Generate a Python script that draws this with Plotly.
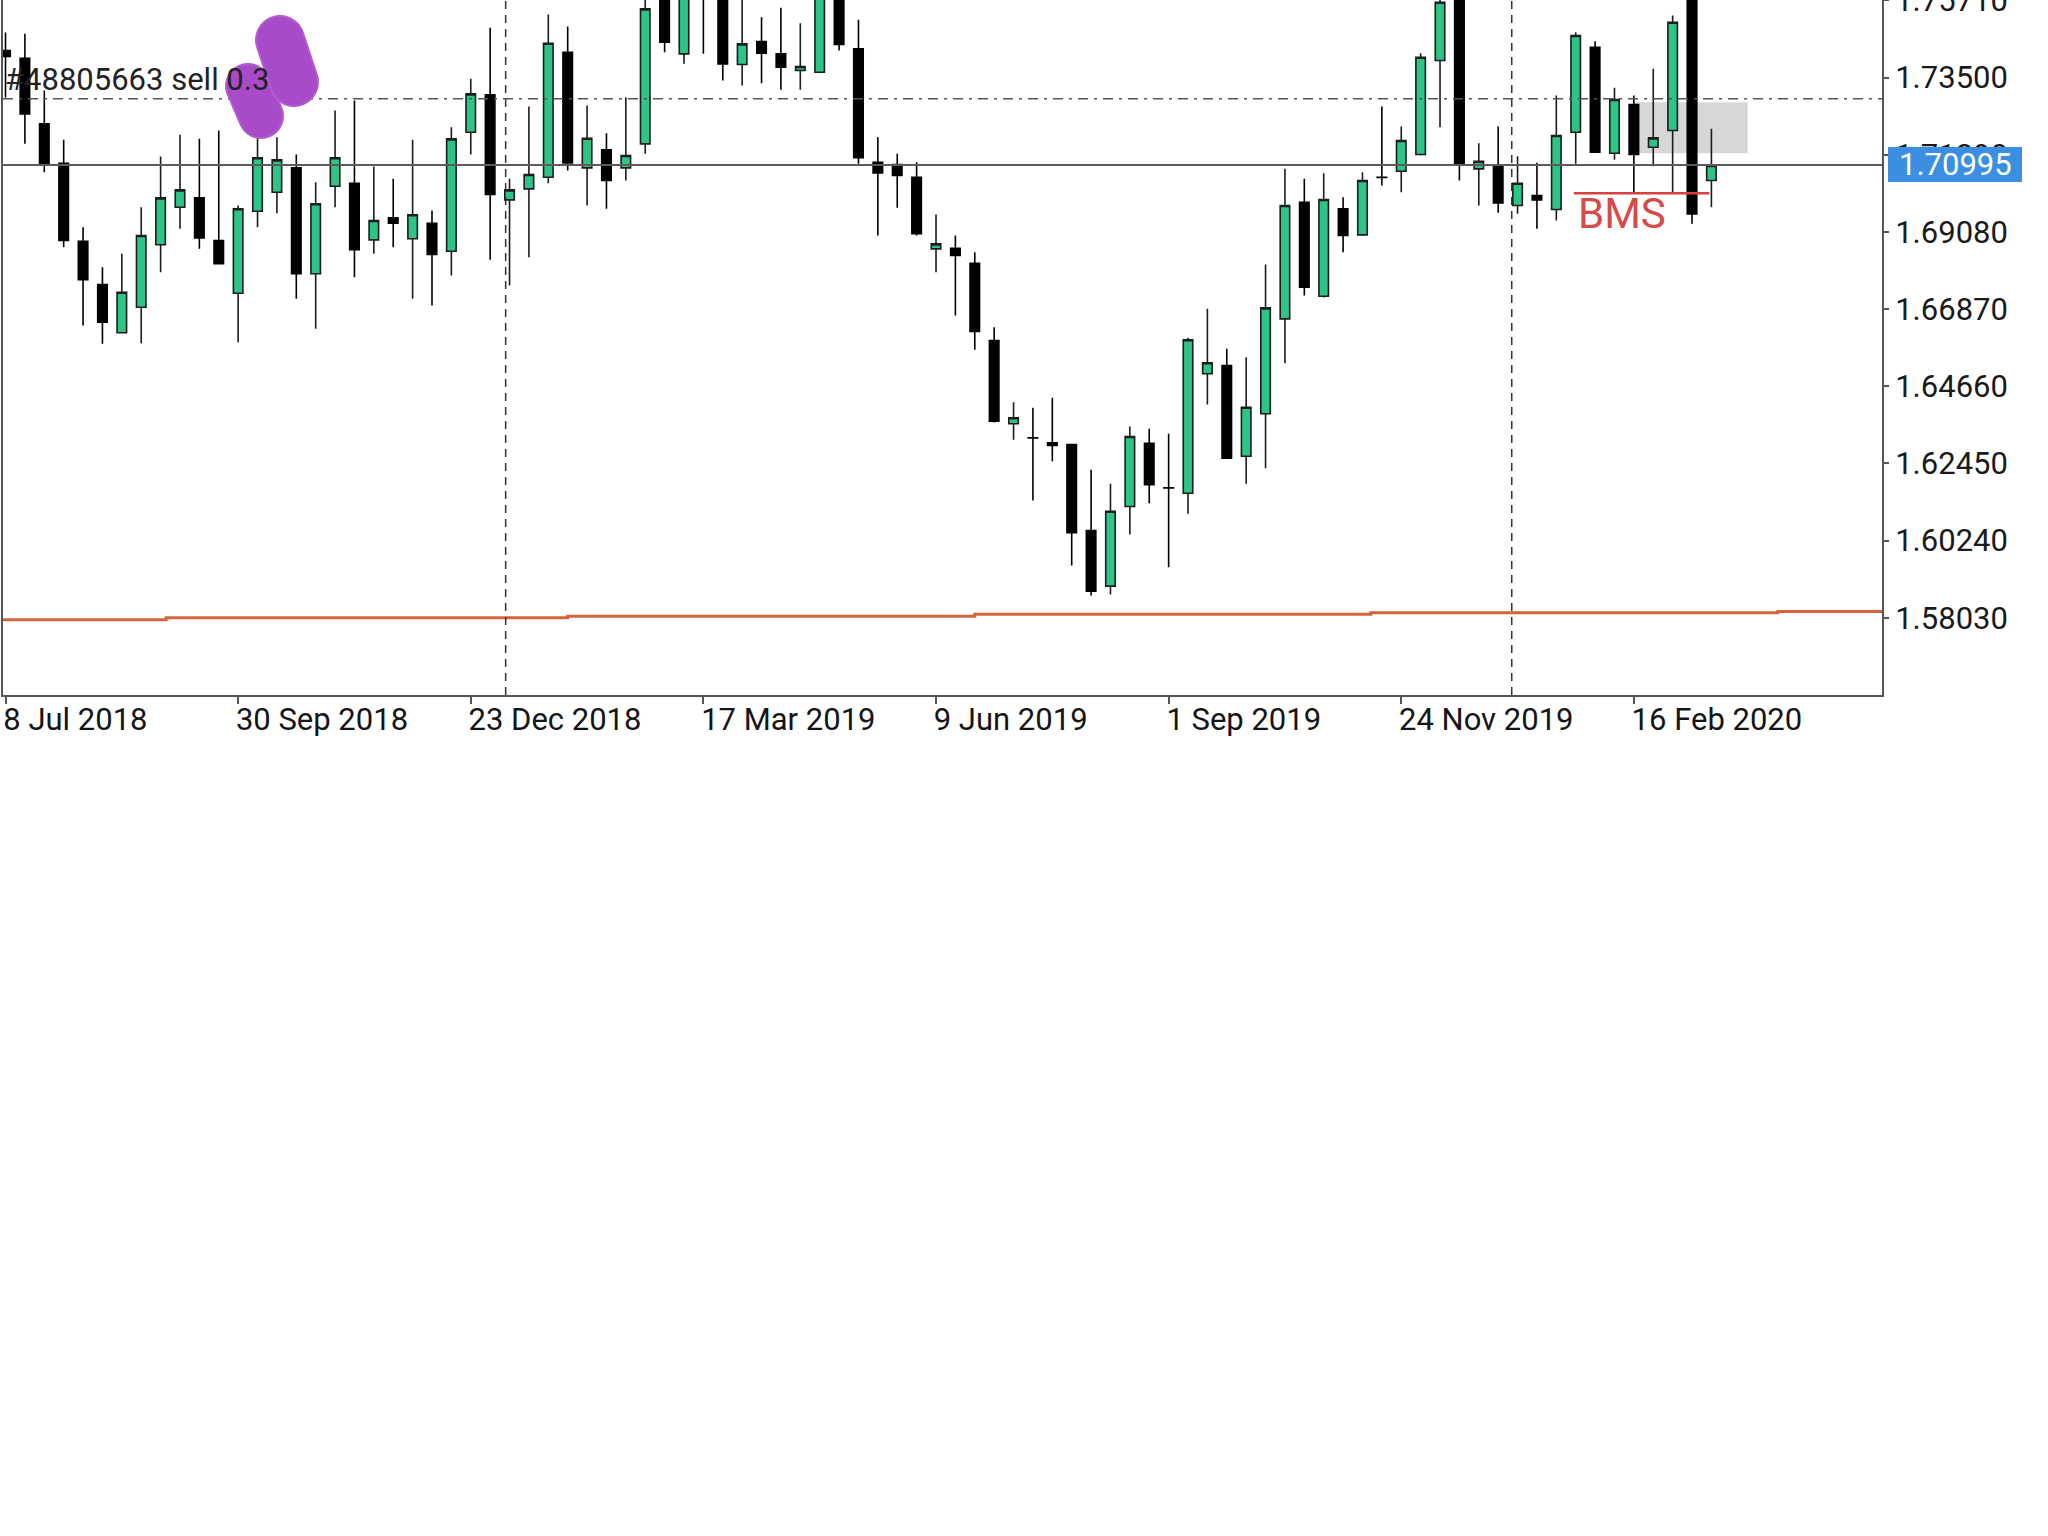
import math
import numpy as np
import pandas as pd
import plotly.graph_objects as go

# ---------------- data (weekly candles) ----------------
start_date = "2018-07-08"
opens = [1.74273, 1.74052, 1.72174, 1.71046, 1.68813, 1.67573, 1.66191, 1.66923, 1.68710, 1.69786,
         1.70055, 1.68833, 1.67324, 1.69672, 1.70216, 1.70914, 1.67880, 1.70388, 1.70473, 1.68853,
         1.69483, 1.68882, 1.69328, 1.68527, 1.71934, 1.73004, 1.69998, 1.70313, 1.70645, 1.74224,
         1.70914, 1.71430, 1.70914, 1.71601, 1.75900, 1.74178, 1.76500, 1.76000, 1.73872, 1.74530,
         1.74178, 1.73700, 1.73651, 1.75950, 1.74321, 1.71075, 1.71009, 1.70645, 1.68595, 1.68613,
         1.68183, 1.65970, 1.63585, 1.63184, 1.63041, 1.62990, 1.60531, 1.58936, 1.61218, 1.63030,
         1.61753, 1.61598, 1.65017, 1.65254, 1.62658, 1.63872, 1.66591, 1.69930, 1.67238, 1.69741,
         1.68996, 1.70645, 1.70817, 1.71295, 1.73986, 1.76400, 1.70886, 1.70960, 1.69835, 1.70121,
         1.69721, 1.71934, 1.74367, 1.71332, 1.72727, 1.71504, 1.71982, 1.76200, 1.70551]
highs = [1.74788, 1.74751, 1.73127, 1.71716, 1.69214, 1.68069, 1.68452, 1.69786, 1.71238, 1.71859,
         1.71745, 1.71982, 1.69835, 1.71790, 1.71790, 1.71295, 1.70502, 1.72555, 1.72841, 1.70952,
         1.70599, 1.71716, 1.69692, 1.72077, 1.73462, 1.74922, 1.70599, 1.72669, 1.75303, 1.74960,
         1.72698, 1.71905, 1.72936, 1.76100, 1.76250, 1.76300, 1.76900, 1.76150, 1.75850, 1.75226,
         1.75495, 1.75054, 1.76200, 1.76100, 1.75151, 1.71790, 1.71315, 1.71075, 1.69577, 1.68976,
         1.68498, 1.66351, 1.64204, 1.64043, 1.64330, 1.62993, 1.62268, 1.61867, 1.63508, 1.63442,
         1.63299, 1.66047, 1.66878, 1.65732, 1.65492, 1.68146, 1.70886, 1.70599, 1.70760, 1.70073,
         1.70788, 1.72669, 1.72097, 1.74195, 1.75930, 1.76800, 1.71619, 1.72097, 1.71246, 1.71057,
         1.72984, 1.74796, 1.74539, 1.73205, 1.72984, 1.73749, 1.75275, 1.76500, 1.72031]
lows = [1.72927, 1.71601, 1.70788, 1.68641, 1.66400, 1.65876, 1.66171, 1.65893, 1.67925, 1.69168,
        1.68595, 1.68146, 1.65921, 1.69214, 1.69615, 1.67164, 1.66305, 1.69786, 1.67782, 1.68452,
        1.68641, 1.67164, 1.66972, 1.67831, 1.71295, 1.68280, 1.67545, 1.68355, 1.70473, 1.70837,
        1.69835, 1.69741, 1.70551, 1.71315, 1.74224, 1.73892, 1.74178, 1.73414, 1.73271, 1.73336,
        1.73147, 1.73147, 1.73623, 1.74273, 1.71029, 1.68976, 1.69769, 1.68976, 1.67925, 1.66686,
        1.65704, 1.63623, 1.63127, 1.61389, 1.62515, 1.59529, 1.58670, 1.58698, 1.60416, 1.61312,
        1.59480, 1.61009, 1.64138, 1.62578, 1.61867, 1.62314, 1.65320, 1.67258, 1.67201, 1.68498,
        1.68976, 1.70408, 1.70216, 1.71266, 1.72077, 1.70551, 1.69835, 1.69626, 1.69597, 1.69168,
        1.69406, 1.71029, 1.71338, 1.71143, 1.70187, 1.70960, 1.70216, 1.69311, 1.69786]
closes = [1.74101, 1.72460, 1.71009, 1.68833, 1.67708, 1.66494, 1.67353, 1.68976, 1.70055, 1.70284,
          1.68910, 1.68166, 1.69741, 1.71201, 1.71143, 1.67880, 1.69884, 1.71201, 1.68567, 1.69406,
          1.69328, 1.69569, 1.68432, 1.71745, 1.73033, 1.70150, 1.70284, 1.70723, 1.74482, 1.71057,
          1.71762, 1.70551, 1.71266, 1.75466, 1.74510, 1.76000, 1.75950, 1.73892, 1.74464, 1.74195,
          1.73794, 1.73814, 1.75900, 1.74444, 1.71201, 1.70771, 1.70694, 1.69025, 1.68738, 1.68404,
          1.66228, 1.63660, 1.63757, 1.63180, 1.62964, 1.60465, 1.58793, 1.61083, 1.63222, 1.61839,
          1.61749, 1.65990, 1.65332, 1.62601, 1.64061, 1.66906, 1.69835, 1.67496, 1.70007, 1.68976,
          1.70551, 1.70641, 1.71696, 1.74081, 1.75655, 1.71000, 1.71103, 1.69912, 1.70473, 1.69998,
          1.71839, 1.74702, 1.71361, 1.72870, 1.71295, 1.71773, 1.75083, 1.69597, 1.70980]

# stepped moving-average line (breakpoint dates and values)
ma_dates = ["2018-07-07", "2018-09-04", "2019-01-27", "2019-06-23", "2019-11-13", "2020-04-08", "2020-05-16"]
ma_values = [1.57974, 1.58032, 1.58077, 1.58135, 1.58175, 1.58212, 1.58212]

# axes
x_tick_dates = ["2018-07-08", "2018-09-30", "2018-12-23", "2019-03-17",
                "2019-06-09", "2019-09-01", "2019-11-24", "2020-02-16"]
x_tick_labels = ["8 Jul 2018", "30 Sep 2018", "23 Dec 2018", "17 Mar 2019",
                 "9 Jun 2019", "1 Sep 2019", "24 Nov 2019", "16 Feb 2020"]
y_ticks = [1.58030, 1.60240, 1.62450, 1.64660, 1.66870, 1.69080, 1.71290, 1.73500, 1.75710]
y_tick_labels = ["%.5f" % v for v in y_ticks]

current_price = 1.70995
order_price = 1.72890
order_label = "#48805663 sell 0.3"
bms_price = 1.70187
bms_label = "BMS"
zone_low, zone_high = 1.71330, 1.72790

# ---------------- geometry ----------------
W, H = 2048, 1536
PL, PR, PT, PB = 3, 1882, 0, 695
base = pd.Timestamp(start_date)


def wk(w):
    return base + pd.Timedelta(days=7 * w)


def px_to_paper(x, y):
    return (x - PL) / (PR - PL), 1 - (y - PT) / (PB - PT)


dates = pd.date_range(start_date, periods=len(opens), freq="7D")

fig = go.Figure()
fig.add_trace(go.Candlestick(
    x=dates, open=opens, high=highs, low=lows, close=closes,
    increasing=dict(line=dict(color="#1c1c1c", width=1.6), fillcolor="#2cc487"),
    decreasing=dict(line=dict(color="#000000", width=1.6), fillcolor="#000000"),
    hoverinfo="skip", showlegend=False,
))
fig.add_trace(go.Scatter(
    x=ma_dates, y=ma_values, mode="lines", line=dict(color="#d6643a", width=3, shape="hv"),
    hoverinfo="skip", showlegend=False,
))

shapes = []
# supply zone rectangle
shapes.append(dict(type="rect", xref="x", yref="y", x0=wk(84.0), x1=wk(89.87),
                   y0=zone_low, y1=zone_high, fillcolor="#d7d7d7", line=dict(width=0), layer="below"))
# period separators
for w in (25.8, 77.7):
    shapes.append(dict(type="line", xref="x", yref="paper", x0=wk(w), x1=wk(w), y0=0, y1=1,
                       line=dict(color="#333333", width=1.5, dash="8px,6px")))
# order line
shapes.append(dict(type="line", xref="paper", yref="y", x0=0, x1=1, y0=order_price, y1=order_price,
                   line=dict(color="#555555", width=1.5, dash="10px,6px,3px,6px")))
# bid line
shapes.append(dict(type="line", xref="paper", yref="y", x0=0, x1=1, y0=current_price, y1=current_price,
                   line=dict(color="#5c5c5c", width=2)))
# BMS line
shapes.append(dict(type="line", xref="x", yref="y", x0=wk(80.9), x1=wk(87.9), y0=bms_price, y1=bms_price,
                   line=dict(color="#d9413f", width=2.5)))


# purple redaction blobs (capsules)
def capsule(p1, p2, r, n=20):
    (x1, y1), (x2, y2) = p1, p2
    a = math.atan2(y2 - y1, x2 - x1)
    pts = []
    for t in np.linspace(a - math.pi / 2, a + math.pi / 2, n):
        pts.append((x2 + r * math.cos(t), y2 + r * math.sin(t)))
    for t in np.linspace(a + math.pi / 2, a + 3 * math.pi / 2, n):
        pts.append((x1 + r * math.cos(t), y1 + r * math.sin(t)))
    pp = [px_to_paper(x, y) for x, y in pts]
    return "M " + " L ".join("%.5f,%.5f" % p for p in pp) + " Z"


for p1, p2, r in (((248, 86), (261, 116), 22), ((280, 40), (294, 82), 24)):
    shapes.append(dict(type="path", xref="paper", yref="paper", path=capsule(p1, p2, r),
                       fillcolor="#a94ac8", line=dict(color="#b25ccf", width=2), layer="above"))

# current price box on the axis
bx0, by0 = px_to_paper(1888, 147)
bx1, by1 = px_to_paper(2022, 182)
shapes.append(dict(type="rect", xref="paper", yref="paper", x0=bx0, x1=bx1, y0=by1, y1=by0,
                   fillcolor="#3b8fe3", line=dict(width=0), layer="above"))

annotations = []
tx, ty = px_to_paper(3, 80)
annotations.append(dict(x=tx, y=ty, xref="paper", yref="paper", text=order_label, showarrow=False,
                        xanchor="left", yanchor="middle",
                        font=dict(family="Roboto", size=31, color="#222222")))
annotations.append(dict(x=wk(83.4), y=1.6961, xref="x", yref="y", text=bms_label, showarrow=False,
                        xanchor="center", yanchor="middle",
                        font=dict(family="Roboto", size=42, color="#d64a4a")))
cx, cy = px_to_paper(1955, 165)
annotations.append(dict(x=cx, y=cy, xref="paper", yref="paper", text="%.5f" % current_price,
                        showarrow=False, xanchor="center", yanchor="middle",
                        font=dict(family="Roboto", size=31, color="#ffffff")))

fig.update_layout(
    width=W, height=H,
    margin=dict(l=PL, r=W - PR, t=PT, b=H - PB, pad=0, autoexpand=False),
    paper_bgcolor="#ffffff", plot_bgcolor="#ffffff",
    showlegend=False,
    shapes=shapes, annotations=annotations,
    xaxis=dict(
        type="date", range=[wk(-0.13), wk(96.8)],
        rangeslider=dict(visible=False), automargin=False,
        tickvals=x_tick_dates, ticktext=x_tick_labels,
        ticks="outside", ticklen=7, tickwidth=1.5, tickcolor="#555555",
        ticklabelposition="outside right", ticklabelshift=-4, ticklabelstandoff=-4,
        tickfont=dict(family="Roboto", size=31, color="#151515"),
        showgrid=False, zeroline=False,
        showline=True, linecolor="#555555", linewidth=2, mirror=False,
    ),
    yaxis=dict(
        side="right", range=[1.5582, 1.7572], automargin=False,
        tickvals=y_ticks, ticktext=y_tick_labels,
        ticks="outside", ticklen=5, tickwidth=1.5, tickcolor="#555555",
        ticklabeloverflow="allow",
        tickfont=dict(family="Roboto", size=31, color="#1a1a1a"),
        showgrid=False, zeroline=False,
        showline=True, linecolor="#555555", linewidth=2, mirror=True,
    ),
)

fig.write_html("out.html", config={"displayModeBar": False},
               post_script="document.body.style.margin='0px';document.body.style.overflow='hidden';")
